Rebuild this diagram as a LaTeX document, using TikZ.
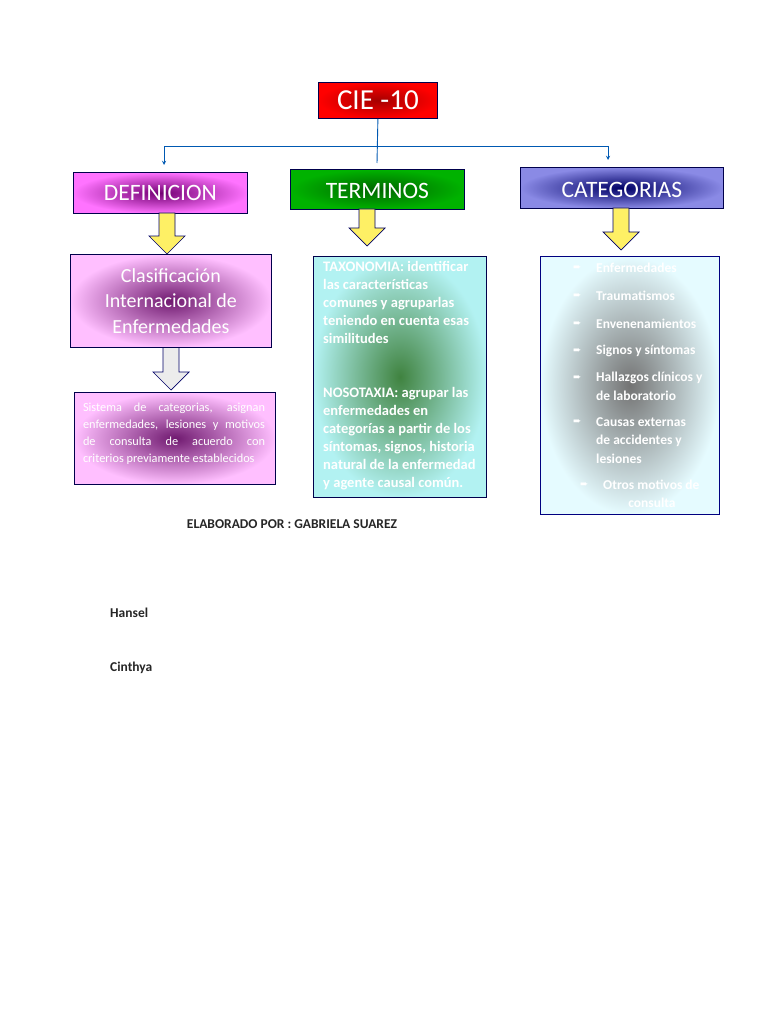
\documentclass[tikz,border=0pt]{standalone}
\usepackage{fontspec}
\setmainfont{Carlito}
\newfontfamily\symfont{DejaVu Sans}
\begin{document}
\lefthyphenmin=64 \righthyphenmin=64
\begin{tikzpicture}[x=1pt,y=-1pt,
 box/.style={draw=black!70!blue,line width=0.8pt,rectangle,anchor=north west,inner sep=0pt},
 head/.style={font=\fontsize{23.5}{26}\selectfont,text=white},
 conn/.style={draw=blue!50!cyan!70!black,line width=0.9pt},
 yarrow/.style={fill=yellow!90!orange!60,draw=black!60!blue,line width=0.7pt},
 item/.style={text=white,anchor=west,inner sep=0pt,font=\bfseries\fontsize{13.5}{18.5}\selectfont,align=left},
 plain/.style={anchor=west,inner sep=0pt,font=\bfseries\fontsize{13.5}{16}\selectfont,text=black!85}]
\useasboundingbox (0,0) rectangle (768,1024);
\newcommand{\blockarrow}[4]{\path[#4] (#1-8,#2) -- (#1+8,#2) -- (#1+8,#3-18) -- (#1+18,#3-18) -- (#1,#3) -- (#1-18,#3-18) -- (#1-8,#3-18) -- cycle;}
\newcommand{\bul}{{\symfont\fontsize{10}{12}\selectfont\char"27A8}}
\newcommand{\jl}[1]{\makebox[182pt][s]{#1}}
% header boxes
\node[box,minimum width=119pt,minimum height=36pt,shading=radial,inner color=red!65!black,outer color=red] (cie) at (318,82) {};
\node[head,font=\fontsize{29}{32}\selectfont] at (cie.center) {CIE -10};
\node[box,minimum width=174pt,minimum height=41pt,shading=radial,inner color=violet!50!magenta!60!black,outer color=magenta!55] (def) at (73,172) {};
\node[head] at (def.center) {DEFINICION};
\node[box,minimum width=174pt,minimum height=40pt,shading=radial,inner color=green!40!black,outer color=green!70!black] (ter) at (290,169) {};
\node[head] at ([yshift=-2pt]ter.center) {TERMINOS};
\node[box,minimum width=203pt,minimum height=41pt,shading=radial,inner color=blue!40!black,outer color=blue!45!white!80!gray] (cat) at (520,167) {};
\node[head] at ([yshift=-2pt]cat.center) {CATEGORIAS};
% connectors
\coordinate (j) at (377,163);
\coordinate (jd) at (164,165);
\coordinate (jc) at (608,160);
\draw[conn] (cie.south) -- (j);
\draw[conn,-stealth] (377,146) -| (jd);
\draw[conn,-stealth] (377,146) -| (jc);
% yellow arrows
\blockarrow{167}{213}{254}{yarrow}
\blockarrow{367}{209}{246}{yarrow}
\blockarrow{621}{208}{250}{yarrow}
\blockarrow{171}{347}{390}{fill=gray!15,draw=black!60!blue,line width=0.7pt}
% content boxes
\node[box,minimum width=201pt,minimum height=93pt,shading=radial,inner color=violet!50!magenta!50!black!90,outer color=magenta!25] (cla) at (70,254) {};
\node[text=white,align=center,font=\fontsize{20}{25.5}\selectfont] at (cla.center) {Clasificación\\Internacional de\\Enfermedades};
\node[box,minimum width=201pt,minimum height=92pt,shading=radial,inner color=violet!50!magenta!50!black!90,outer color=magenta!25] (sis) at (74,392) {};
\node[text=white,align=left,font=\fontsize{12.3}{17}\selectfont,anchor=north,inner sep=0pt] at (174,403) {\jl{Sistema de categorias, asignan}\\\jl{enfermedades, lesiones y motivos}\\\jl{de consulta de acuerdo con}\\criterios previamente establecidos};
\node[box,minimum width=173pt,minimum height=241pt,shading=radial,inner color=green!35!black!75,outer color=teal!35!cyan!30!white] (tax) at (313,256) {};
\node[text=white,anchor=north west,font=\bfseries\fontsize{14.5}{18}\selectfont,inner sep=0pt,align=left] at (323,261) {TAXONOMIA: identificar\\las características\\comunes y agruparlas\\teniendo en cuenta esas\\similitudes\\[36pt]NOSOTAXIA: agrupar las\\enfermedades en\\categorías a partir de los\\síntomas, signos, historia\\natural de la enfermedad\\y agente causal común.};
\node[box,minimum width=179pt,minimum height=258pt,shading=radial,inner color=black!55,outer color=blue!15!cyan!10!white,draw=blue!50!black] (lst) at (540,256) {};
\foreach \y/\t in {268/Enfermedades,296/Traumatismos,324/Envenenamientos,351/Signos y síntomas,378/Hallazgos clínicos y,422/Causas externas}{
 \node[item] at (573,\y) {\bul};
 \node[item] at (596,\y) {\t};}
\node[item] at (596,396) {de laboratorio};
\node[item] at (596,441) {de accidentes y};
\node[item] at (596,459) {lesiones};
\node[item] at (580,485) {\bul};
\node[item] at (603,485) {Otros motivos de};
\node[item,anchor=center] at (652,503) {consulta};
% footer texts
\node[plain,anchor=center] (elab) at (292,524) {ELABORADO POR : GABRIELA SUAREZ};
\node[plain] (han) at (110,613) {Hansel};
\node[plain] (cin) at (110,668) {Cinthya};
\end{tikzpicture}
\end{document}
